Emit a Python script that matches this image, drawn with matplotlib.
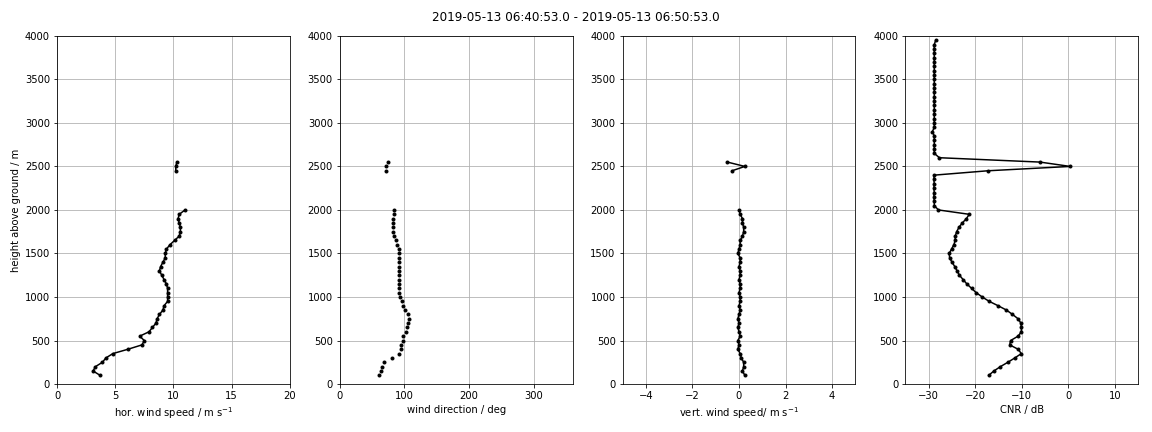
import numpy as np
import matplotlib
matplotlib.use("Agg")
import matplotlib.pyplot as plt

nan = np.nan
# lower gates 100..2000 m, plus upper gates 2450..2550
h_low = list(range(100, 2001, 50))
h_up = [2450, 2500, 2550]

speed_low = [3.7, 3.1, 3.3, 3.9, 4.2, 4.8, 6.1, 7.3, 7.5, 7.1, 7.9, 8.2, 8.5, 8.6, 8.8, 9.1, 9.2, 9.5, 9.5,
             9.5, 9.5, 9.4, 9.2, 9.0, 8.8, 8.9, 9.1, 9.3, 9.3, 9.4, 9.7, 10.1, 10.5, 10.6, 10.6, 10.5, 10.4, 10.5, 11.0]
speed_up = [10.2, 10.2, 10.3]

dir_low = [61, 63, 65, 69, 81, 92, 94, 95, 97, 98, 102, 104, 106, 107, 105, 101, 98, 96, 93,
           91, 91, 91, 91, 91, 91, 92, 92, 91, 92, 92, 89, 87, 84, 83, 83, 83, 83, 84, 84]
dir_up = [72, 72, 74]

w_low = [0.25, 0.15, 0.2, 0.2, 0.1, 0.05, -0.05, 0.0, -0.05, 0.05, 0.0, -0.05, 0.0, -0.05, 0.0, 0.05, 0.0, 0.05, 0.05,
         0.0, 0.05, 0.05, 0.0, 0.05, 0.05, 0.0, 0.05, 0.05, -0.05, 0.0, 0.05, 0.05, 0.15, 0.2, 0.2, 0.15, 0.15, 0.05, 0.0]
w_up = [-0.3, 0.25, -0.5]

cnr_h = list(range(100, 4000, 50))
cnr = [-17.1, -16.0, -14.6, -13.0, -11.5, -10.1, -10.8, -12.6, -12.4, -10.8, -10.1, -10.1, -10.2, -10.8, -12.0,
       -13.3, -15.1, -17.0, -18.5, -19.8, -20.8, -21.8, -22.6, -23.4, -23.9, -24.4, -25.0, -25.5, -25.6, -25.1,
       -24.6, -24.3, -24.3, -24.0, -23.5, -22.8, -21.9, -21.3, -27.9,
       -28.8, -28.8, -28.9, -28.8, -28.9, -28.8, -28.9, -28.8, -17.3, 0.4, -6.1, -27.7,
       -28.8, -28.8, -28.8, -28.8, -28.8, -29.2, -28.8, -28.8, -28.8, -28.8, -28.8, -28.8, -28.8, -28.8,
       -28.8, -28.8, -28.8, -28.8, -28.8, -28.8, -28.8, -28.8, -28.8, -28.8, -28.8, -28.8, -28.5]

h_all = h_low + [nan] + h_up
speed = speed_low + [nan] + speed_up
wdir = dir_low + [nan] + dir_up
w = w_low + [nan] + w_up

fig, axes = plt.subplots(1, 4, figsize=(16, 6), dpi=72)
fig.subplots_adjust(left=0.0495, right=0.988, top=0.917, bottom=0.111, wspace=0.215)
fig.suptitle("2019-05-13 06:40:53.0 - 2019-05-13 06:50:53.0", fontsize=12, y=0.975)

ax = axes[0]
ax.plot(speed, h_all, "k.-", lw=1.5, ms=6)
ax.set_xlim(0, 20)
ax.set_xlabel("hor. wind speed / m s$^{-1}$")
ax.set_ylabel("height above ground / m")

ax = axes[1]
ax.plot(wdir, h_all, "k.", ms=6)
ax.set_xlim(0, 360)
ax.set_xticks([0, 100, 200, 300])
ax.set_xlabel("wind direction / deg")

ax = axes[2]
ax.plot(w, h_all, "k.-", lw=1.5, ms=6)
ax.set_xlim(-5, 5)
ax.set_xlabel("vert. wind speed/ m s$^{-1}$")

ax = axes[3]
ax.plot(cnr, cnr_h, "k.-", lw=1.5, ms=6)
ax.set_xlim(-35, 15)
ax.set_xticks([-30, -20, -10, 0, 10])
ax.set_xlabel("CNR / dB")

for ax in axes:
    ax.set_ylim(0, 4000)
    ax.grid(True, color="#b0b0b0", lw=0.8)
    ax.set_axisbelow(True)

fig.savefig("out.png", dpi=72)
